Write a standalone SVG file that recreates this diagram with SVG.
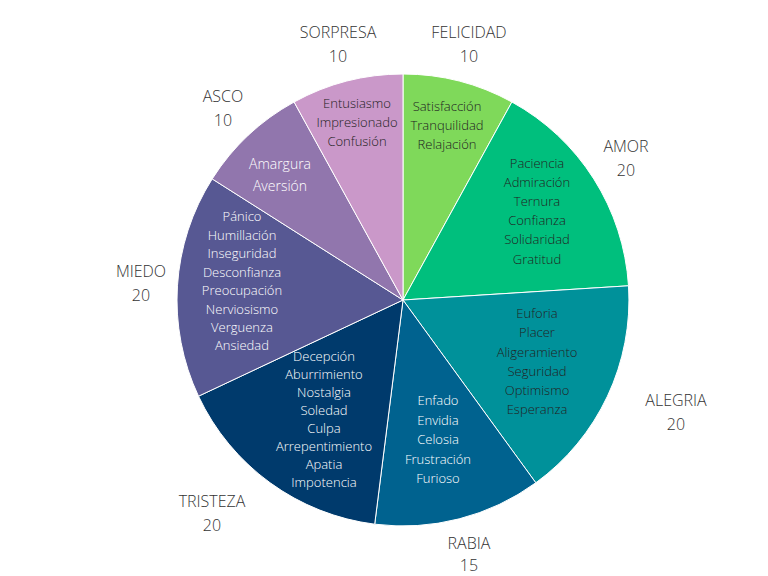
<svg xmlns="http://www.w3.org/2000/svg" width="768" height="576" viewBox="0 0 768 576">
<style>
.s{stroke:#fff;stroke-width:1}
.in{font-family:"Open Sans",sans-serif;font-size:13px;text-anchor:middle;font-weight:300}
.d{fill:#222}
.w{fill:#fff}
.lb{font-family:"Open Sans",sans-serif;font-size:16px;fill:#333;text-anchor:middle;font-weight:300}
</style>
<rect width="768" height="576" fill="#fff"/>
<g id="felicidad"><path class="s" fill="#7fd95a" d="M403,300 L403,74 A226,226 0 0 1 511.9,102 Z"/>
<text class="in d" x="447" y="111">Satisfacción</text><text class="in d" x="447" y="130">Tranquilidad</text><text class="in d" x="447" y="149">Relajación</text>
<text class="lb" x="469" y="38">FELICIDAD</text><text class="lb" x="469" y="62">10</text></g>
<g id="amor"><path class="s" fill="#00bf7d" d="M403,300 L511.9,102 A226,226 0 0 1 628.5,285.8 Z"/>
<text class="in d" x="537" y="168">Paciencia</text><text class="in d" x="537" y="187">Admiración</text><text class="in d" x="537" y="206">Ternura</text><text class="in d" x="537" y="225">Confianza</text><text class="in d" x="537" y="244">Solidaridad</text><text class="in d" x="537" y="264">Gratitud</text>
<text class="lb" x="626" y="152">AMOR</text><text class="lb" x="626" y="176">20</text></g>
<g id="alegria"><path class="s" fill="#00919a" d="M403,300 L628.5,285.8 A226,226 0 0 1 535.8,482.8 Z"/>
<text class="in d" x="537" y="318">Euforia</text><text class="in d" x="537" y="337">Placer</text><text class="in d" x="537" y="357">Aligeramiento</text><text class="in d" x="537" y="376">Seguridad</text><text class="in d" x="537" y="395">Optimismo</text><text class="in d" x="537" y="414">Esperanza</text>
<text class="lb" x="676" y="406">ALEGRIA</text><text class="lb" x="676" y="430">20</text></g>
<g id="rabia"><path class="s" fill="#00628f" d="M403,300 L535.8,482.8 A226,226 0 0 1 374.7,524.2 Z"/>
<text class="in w" x="438" y="405">Enfado</text><text class="in w" x="438" y="425">Envidia</text><text class="in w" x="438" y="444">Celosia</text><text class="in w" x="438" y="464">Frustración</text><text class="in w" x="438" y="483">Furioso</text>
<text class="lb" x="469" y="549">RABIA</text><text class="lb" x="469" y="571">15</text></g>
<g id="tristeza"><path class="s" fill="#003a6c" d="M403,300 L374.7,524.2 A226,226 0 0 1 198.5,396.2 Z"/>
<text class="in w" x="324" y="361">Decepción</text><text class="in w" x="324" y="379">Aburrimiento</text><text class="in w" x="324" y="397">Nostalgia</text><text class="in w" x="324" y="415">Soledad</text><text class="in w" x="324" y="433">Culpa</text><text class="in w" x="324" y="451">Arrepentimiento</text><text class="in w" x="324" y="469">Apatia</text><text class="in w" x="324" y="487">Impotencia</text>
<text class="lb" x="212" y="507">TRISTEZA</text><text class="lb" x="212" y="531">20</text></g>
<g id="miedo"><path class="s" fill="#575893" d="M403,300 L198.5,396.2 A226,226 0 0 1 212.2,178.9 Z"/>
<text class="in w" x="242" y="221">Pánico</text><text class="in w" x="242" y="240">Humillación</text><text class="in w" x="242" y="258">Inseguridad</text><text class="in w" x="242" y="277">Desconfianza</text><text class="in w" x="242" y="295">Preocupación</text><text class="in w" x="242" y="314">Nerviosismo</text><text class="in w" x="242" y="332">Verguenza</text><text class="in w" x="242" y="350">Ansiedad</text>
<text class="lb" x="141" y="277">MIEDO</text><text class="lb" x="141" y="301">20</text></g>
<g id="asco"><path class="s" fill="#9176ad" d="M403,300 L212.2,178.9 A226,226 0 0 1 294.1,102 Z"/>
<text class="in w" x="280" y="169" style="font-size:14px">Amargura</text><text class="in w" x="280" y="191" style="font-size:14px">Aversión</text>
<text class="lb" x="223" y="102">ASCO</text><text class="lb" x="223" y="126">10</text></g>
<g id="sorpresa"><path class="s" fill="#ca98c9" d="M403,300 L294.1,102 A226,226 0 0 1 403,74 Z"/>
<text class="in d" x="357" y="108">Entusiasmo</text><text class="in d" x="357" y="127">Impresionado</text><text class="in d" x="357" y="146">Confusión</text>
<text class="lb" x="338" y="38">SORPRESA</text><text class="lb" x="338" y="62">10</text></g>
</svg>
